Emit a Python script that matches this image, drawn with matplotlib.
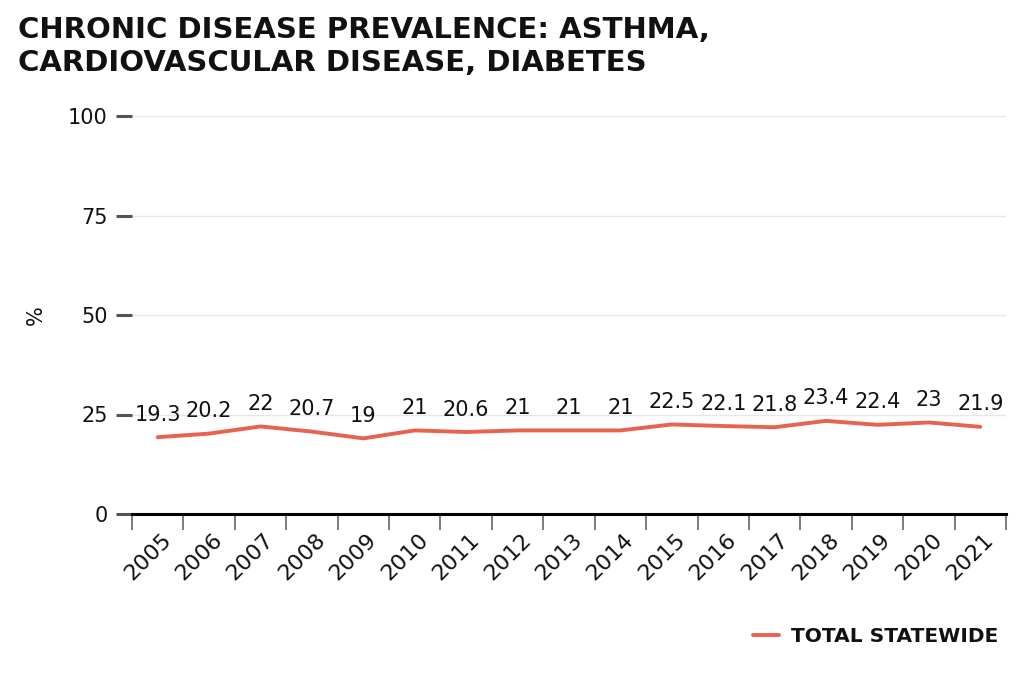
import matplotlib
matplotlib.use('Agg')
import matplotlib.pyplot as plt
import numpy as np

# ── Data ──────────────────────────────────────────────────────────────────────
years  = [2005, 2006, 2007, 2008, 2009, 2010, 2011, 2012, 2013,
          2014, 2015, 2016, 2017, 2018, 2019, 2020, 2021]
values = [19.3, 20.2, 22, 20.7, 19, 21, 20.6, 21, 21,
          21, 22.5, 22.1, 21.8, 23.4, 22.4, 23, 21.9]
y_ticks = [0, 25, 50, 75, 100]
series_name = 'TOTAL STATEWIDE'
title = 'CHRONIC DISEASE PREVALENCE: ASTHMA,\nCARDIOVASCULAR DISEASE, DIABETES'

# ── Style ─────────────────────────────────────────────────────────────────────
FONT  = 'DejaVu Sans'
LINE  = '#e8634f'
TEXT  = '#111111'
GRID  = '#e6e6e6'
TICK  = '#555555'

plt.rcParams['font.family'] = FONT

fig = plt.figure(figsize=(10.24, 6.83), dpi=100)
ax = fig.add_axes([132 / 1024, 1 - 514 / 683, 874 / 1024, 398 / 683])

# band positions: points sit in the middle of each year slot
pos = np.arange(len(years)) + 0.5
ax.plot(pos, values, color=LINE, linewidth=2.8, solid_capstyle='round',
        label=series_name, zorder=3)

for x, v in zip(pos, values):
    ax.annotate(f'{v:g}', (x, v), xytext=(0, 9), textcoords='offset points',
                ha='center', va='bottom', fontsize=15, color=TEXT)

ax.set_xlim(0, len(years))
ax.set_ylim(0, 100)

# y axis
ax.set_yticks(y_ticks)
ax.set_yticklabels([str(t) for t in y_ticks], fontsize=15, color=TEXT)
ax.tick_params(axis='y', length=11.5, width=2.2, color=TICK, pad=6)
for t in y_ticks[1:]:
    ax.axhline(t, color=GRID, linewidth=1, zorder=1)
ax.set_ylabel('%', fontsize=15, color=TEXT)
ax.yaxis.set_label_coords(-0.098, 0.5)

# x axis: major ticks at slot edges, labels at slot centres
ax.set_xticks(np.arange(len(years) + 1))
ax.set_xticklabels([])
ax.tick_params(axis='x', which='major', length=11.5, width=1.2, color='#666666')
ax.set_xticks(pos + 0.06, minor=True)
ax.set_xticklabels([str(y) for y in years], minor=True, rotation=45,
                   ha='right', rotation_mode='anchor', fontsize=16, color=TEXT)
ax.tick_params(axis='x', which='minor', length=0, pad=11)

for side in ('top', 'right', 'left'):
    ax.spines[side].set_visible(False)
ax.spines['bottom'].set_color('black')
ax.spines['bottom'].set_linewidth(2.2)

fig.text(18 / 1024, 1 - 16 / 683, title, ha='left', va='top',
         fontsize=21, fontweight='bold', color=TEXT, linespacing=1.22)

leg = ax.legend(loc='center right', bbox_to_anchor=(1.012, -0.307),
                frameon=False, handlelength=1.3, handletextpad=0.6,
                prop={'weight': 'bold', 'size': 14.5})
for txt in leg.get_texts():
    txt.set_color(TEXT)

fig.savefig('out.png', dpi=100, facecolor='white')
